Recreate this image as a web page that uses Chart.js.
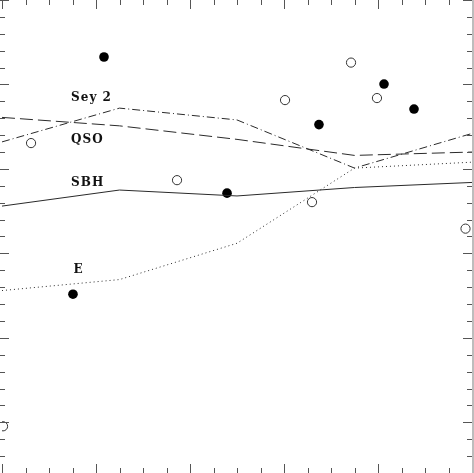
<!DOCTYPE html>
<html>
<head>
<meta charset="utf-8">
<script src="https://cdn.jsdelivr.net/npm/chart.js@4.4.0/dist/chart.umd.min.js"></script>
<style>
  html, body { margin: 0; padding: 0; background: #fff; }
  #wrap { width: 474px; height: 473px; }
</style>
</head>
<body>
<div id="wrap"><canvas id="myChart"></canvas></div>
<script>
// model curves, all sampled at the same x positions
const lineX = [0, 1.25, 2.5, 3.75, 5];
const sey2Y = [3.32, 3.72, 3.58, 3.01, 3.42];
const qsoY  = [3.61, 3.51, 3.35, 3.16, 3.20];
const sbhY  = [2.56, 2.75, 2.68, 2.78, 2.84];
const ellY  = [1.56, 1.69, 2.12, 3.01, 3.08];

// observed points
const filledX = [1.085, 0.755, 2.394, 3.372, 4.064, 4.383];
const filledY = [4.325, 1.517, 2.713, 3.525, 4.005, 3.709];
const openX = [0.309, 1.862, 3.011, 3.713, 3.989, 3.298, 4.931, 0.011];
const openY = [3.306, 2.867, 3.815, 4.259, 3.839, 2.607, 2.293, -0.047];

// curve labels
const labelText = ["Sey 2", "QSO", "SBH", "E"];
const labelX = [0.735, 0.735, 0.735, 0.76];
const labelY = [3.84, 3.34, 2.83, 1.80];

function pts(xs, ys) {
    return xs.map(function (x, i) { return { x: x, y: ys[i] }; });
}

function curve(ys, dash) {
    return {
        data: pts(lineX, ys),
        showLine: true,
        borderColor: '#2a2a2a',
        borderWidth: 1,
        borderDash: dash,
        pointRadius: 0,
        fill: false
    };
}

// inward ticks on all four sides plus labels
const framePlugin = {
    id: 'frame',
    afterDatasetsDraw: function (chart) {
        const c = chart.ctx;
        const xs = chart.scales.x, ys = chart.scales.y;
        const W = chart.width, H = chart.height;
        const rightX = xs.getPixelForValue(5);
        c.save();
        c.strokeStyle = '#555';
        c.lineWidth = 1;
        c.beginPath();
        for (let i = 0; i <= 20; i++) {
            const v = i * 0.25;
            const len = (i % 4 === 0) ? 9 : 5;
            const px = Math.round(xs.getPixelForValue(v)) + 0.5;
            c.moveTo(px, 0); c.lineTo(px, len);
            c.moveTo(px, H); c.lineTo(px, H - len);
        }
        for (let i = -3; i <= 25; i++) {
            const v = i * 0.2;
            const len = (i % 5 === 0) ? 9 : 5;
            const py = Math.round(ys.getPixelForValue(v)) + 0.5;
            c.moveTo(0, py); c.lineTo(len, py);
            c.moveTo(rightX, py); c.lineTo(rightX - len, py);
        }
        c.stroke();
        // right frame edge
        c.strokeStyle = '#bdbdbd';
        c.lineWidth = 2;
        c.beginPath();
        c.moveTo(rightX + 1, 0); c.lineTo(rightX + 1, H);
        c.stroke();

        c.fillStyle = '#111';
        c.font = 'bold 12px "DejaVu Serif"';
        c.letterSpacing = '1px';
        c.textAlign = 'left';
        c.textBaseline = 'middle';
        labelText.forEach(function (t, i) {
            c.fillText(t, xs.getPixelForValue(labelX[i]), ys.getPixelForValue(labelY[i]));
        });
        c.restore();
    }
};

document.addEventListener('DOMContentLoaded', function () {
    const ctx = document.getElementById('myChart');
    new Chart(ctx, {
        type: 'scatter',
        data: {
            datasets: [
                curve(sey2Y, [8, 3, 1, 3]),
                curve(qsoY, [13, 5]),
                curve(sbhY, []),
                curve(ellY, [1, 3]),
                {
                    data: pts(filledX, filledY),
                    pointRadius: 4.8,
                    pointBackgroundColor: '#000',
                    pointBorderColor: '#000',
                    pointBorderWidth: 0
                },
                {
                    data: pts(openX, openY),
                    pointRadius: 4.6,
                    pointBackgroundColor: 'rgba(0,0,0,0)',
                    pointBorderColor: '#333',
                    pointBorderWidth: 1
                }
            ]
        },
        options: {
            responsive: true,
            maintainAspectRatio: false,
            animation: false,
            layout: { autoPadding: false, padding: { left: 2, right: 2, top: 0, bottom: 0 } },
            scales: {
                x: { type: 'linear', min: 0, max: 5, display: false },
                y: { type: 'linear', min: -0.6, max: 5, display: false }
            },
            plugins: {
                legend: { display: false },
                tooltip: { enabled: false }
            }
        },
        plugins: [framePlugin]
    });
});
</script>
</body>
</html>
